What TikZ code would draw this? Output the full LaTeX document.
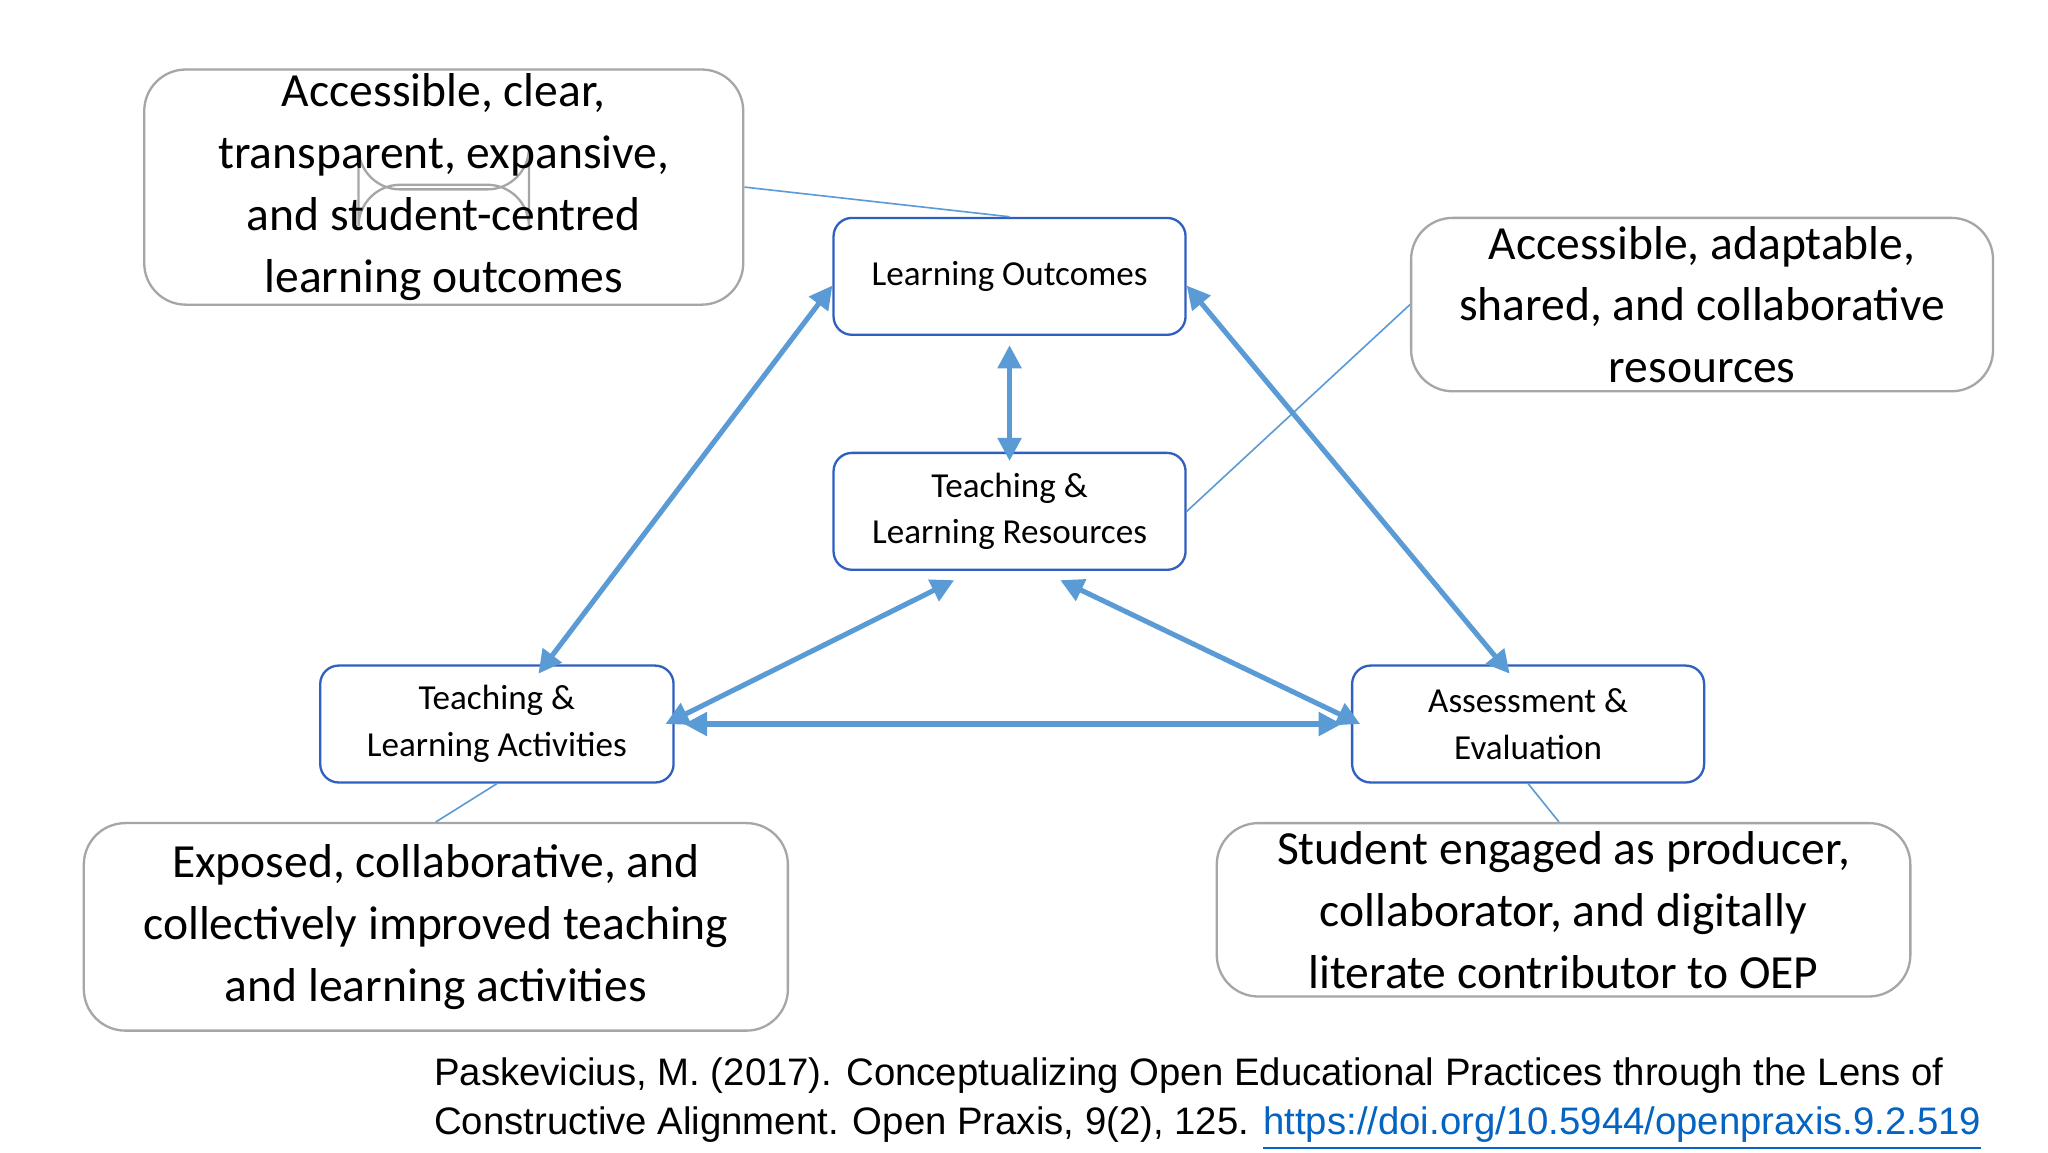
\documentclass[tikz,border=0pt]{standalone}
\usepackage{fontspec}
\setmainfont{Carlito}
\newfontfamily\citefont{Liberation Sans}
\usetikzlibrary{arrows.meta}
\definecolor{boxblue}{HTML}{2F5FBF}
\definecolor{arrblue}{HTML}{5B9BD5}
\definecolor{boxgray}{HTML}{A6A6A6}
\definecolor{linkblue}{HTML}{0563C1}
\begin{document}
\begin{tikzpicture}[x=0.01cm,y=-0.01cm,
  bigbox/.style={draw=boxgray,line width=0.5pt,rounded corners=9pt,align=center,inner sep=0pt,
    font=\fontsize{10.3}{13.4}\selectfont},
  smallbox/.style={draw=boxblue,line width=0.5pt,rounded corners=4pt,align=center,inner sep=0pt,
    font=\fontsize{7.6}{10.1}\selectfont},
  dbl/.style={arrblue,line width=1.1pt,{Triangle[length=5pt,width=5pt]}-{Triangle[length=5pt,width=5pt]}},
  thin/.style={arrblue,line width=0.35pt}]
\useasboundingbox[fill=white] (0,0) rectangle (1560,878);
\node[bigbox,minimum width=456\pgflinewidth] (tl) at (338,142.5) [minimum width=1.297cm] {};
\node[bigbox,minimum width=4.56cm,minimum height=1.79cm] (tl) at (338,142.5) {Accessible, clear,\\transparent, expansive,\\and student-centred\\learning outcomes};
\node[bigbox,minimum width=4.43cm,minimum height=1.32cm] (tr) at (1296.5,232) {Accessible, adaptable,\\shared, and collaborative\\resources};
\node[bigbox,minimum width=5.36cm,minimum height=1.58cm] (bl) at (332,706) {Exposed, collaborative, and\\collectively improved teaching\\and learning activities};
\node[bigbox,minimum width=5.28cm,minimum height=1.32cm] (br) at (1191,693) {Student engaged as producer,\\collaborator, and digitally\\literate contributor to OEP};
\node[smallbox,minimum width=2.68cm,minimum height=0.89cm] (lo) at (769,210.5) {Learning Outcomes};
\node[smallbox,minimum width=2.68cm,minimum height=0.89cm] (tlr) at (769,389.5) {Teaching \&\\Learning Resources};
\node[smallbox,minimum width=2.69cm,minimum height=0.89cm] (tla) at (378.5,551.5) {Teaching \&\\Learning Activities};
\node[smallbox,minimum width=2.68cm,minimum height=0.89cm] (ae) at (1164,551.5) {Assessment \&\\Evaluation};
\draw[dbl] ([yshift=-2]lo.west) -- ([xshift=9,yshift=-2]tla.north);
\draw[dbl] ([yshift=-2]lo.east) -- ([xshift=-4,yshift=-2]ae.north);
\draw[dbl] ([yshift=-2]lo.south) -- ([yshift=-2]tlr.north);
\draw[dbl] ([xshift=-12,yshift=-2]tlr.south) -- ([xshift=-2]tla.east);
\draw[dbl] ([xshift=11,yshift=-2]tlr.south) -- ([xshift=2]ae.west);
\draw[dbl] ([xshift=2]tla.east) -- ([xshift=-2]ae.west);
\draw[thin] (tl.east) -- (lo.north);
\draw[thin] (tlr.east) -- (tr.west);
\draw[thin] (tla.south) -- (bl.north);
\draw[thin] (ae.south) -- ([xshift=-1]br.north);
\node[anchor=north west,align=left,inner sep=0pt,font=\citefont\fontsize{8.3}{10.5}\selectfont] (cite) at (330,805)
 {Paskevicius, M. (2017). Conceptualizing Open Educational Practices through the Lens of\\Constructive Alignment. Open Praxis, 9(2), 125. \textcolor{linkblue}{\underline{https://doi.org/10.5944/openpraxis.9.2.519}}};
\end{tikzpicture}
\end{document}
